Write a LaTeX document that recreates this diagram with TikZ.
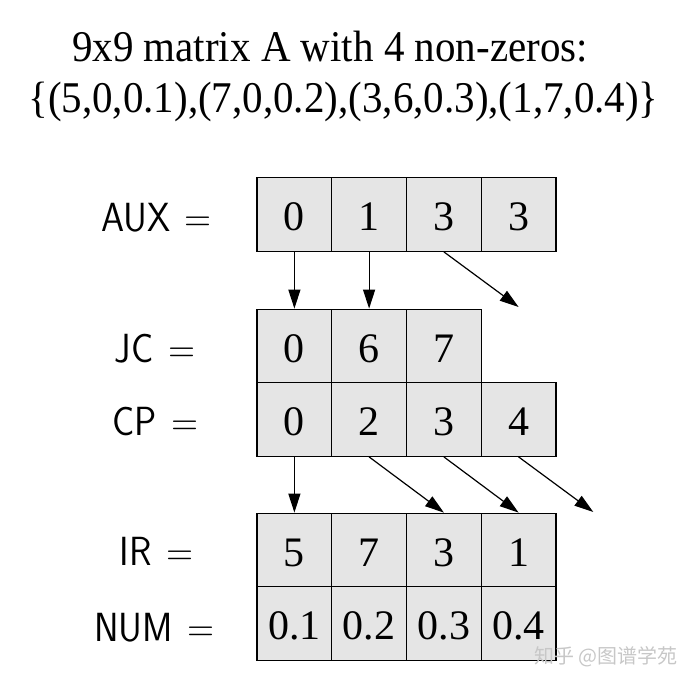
\documentclass[tikz,border=0pt]{standalone}
\usepackage{fontspec}
\setmainfont{Liberation Serif}
\newfontfamily\cjkfont{Noto Sans CJK SC}
\usetikzlibrary{arrows.meta}
\newcommand{\tallsf}[1]{\scalebox{1}[1.1]{#1}}
\newcommand{\talltt}[1]{\scalebox{1}[1.07]{#1}}
\begin{document}
\begin{tikzpicture}[x=1pt,y=-1pt,
 cell/.style={draw=black, line width=1.3pt, fill=black!10, minimum width=74.75pt, minimum height=73.5pt, inner sep=0pt, font=\fontsize{42}{46}\selectfont, text height=32.4pt, text depth=0pt},
 lbl/.style={font=\sffamily\fontsize{37}{42}\selectfont, inner sep=0pt},
 ttl/.style={font=\fontsize{41}{46}\selectfont, inner sep=0pt, anchor=base},
 arr/.style={line width=1.2pt, -{Triangle[length=19pt,width=12pt]}}
]
\useasboundingbox (0,0) rectangle (691,685);
% title
\node[ttl] (t1) at (330,62) {\talltt{9x9 matrix A with 4 non-zeros:}};
\node[ttl] (t2) at (343.5,113) {\talltt{\{(5,0,0.1),(7,0,0.2),(3,6,0.3),(1,7,0.4)\}}};
% labels
\node[lbl] (lA) at (156.5,218) {\tallsf{AUX\hspace{0.4em}=}};
\node[lbl] (lJ) at (155,348.5) {\tallsf{JC\hspace{0.4em}=}};
\node[lbl] (lC) at (155.5,422) {\tallsf{CP\hspace{0.4em}=}};
\node[lbl] (lI) at (156.5,551.5) {\tallsf{IR\hspace{0.4em}=}};
\node[lbl] (lN) at (154.5,627.5) {\tallsf{NUM\hspace{0.4em}=}};
% AUX row
\node[cell] (a1) at (294.4,214.5) {0};
\node[cell] (a2) at (369.1,214.5) {1};
\node[cell] (a3) at (443.9,214.5) {3};
\node[cell] (a4) at (518.6,214.5) {3};
% JC row
\node[cell] (j1) at (294.4,346) {0};
\node[cell] (j2) at (369.1,346) {6};
\node[cell] (j3) at (443.9,346) {7};
% CP row
\node[cell] (c1) at (294.4,419.5) {0};
\node[cell] (c2) at (369.1,419.5) {2};
\node[cell] (c3) at (443.9,419.5) {3};
\node[cell] (c4) at (518.6,419.5) {4};
% IR row
\node[cell] (i1) at (294.4,550) {5};
\node[cell] (i2) at (369.1,550) {7};
\node[cell] (i3) at (443.9,550) {3};
\node[cell] (i4) at (518.6,550) {1};
% NUM row
\node[cell] (n1) at (294.4,623.5) {0.1};
\node[cell] (n2) at (369.1,623.5) {0.2};
\node[cell] (n3) at (443.9,623.5) {0.3};
\node[cell] (n4) at (518.6,623.5) {0.4};
% free ends
\coordinate (e1) at (518.6,307);
\coordinate (e2) at (593.3,512);
% arrows
\draw[arr] (a1.south) -- (j1.north);
\draw[arr] (a2.south) -- (j2.north);
\draw[arr] (a3.south) -- (e1);
\draw[arr] (c1.south) -- (i1.north);
\draw[arr] (c2.south) -- (i3.north);
\draw[arr] (c3.south) -- (i4.north);
\draw[arr] (c4.south) -- (e2);
% watermark
\node[font=\cjkfont\fontsize{20}{23}\selectfont, text=black!22, inner sep=0pt] (wm) at (606,657) {知乎 @图谱学苑};
\end{tikzpicture}
\end{document}
